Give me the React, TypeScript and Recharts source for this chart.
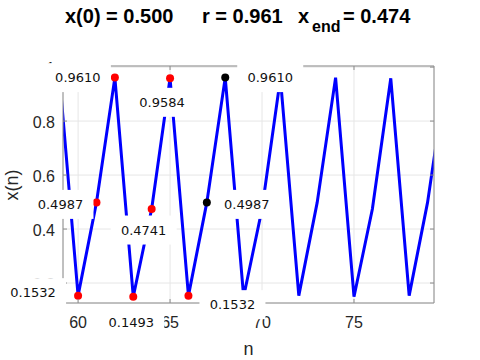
import { ComposedChart, Line, Scatter, XAxis, YAxis, CartesianGrid } from "recharts"

// logistic map orbit, n = 59..80
const nValues = [59, 60, 61, 62, 63, 64, 65, 66, 67, 68, 69, 70, 71, 72, 73, 74, 75, 76, 77, 78, 79, 80]
const xValues = [
  0.9584, 0.1532, 0.4987, 0.961, 0.1493, 0.4741, 0.9584, 0.1532, 0.4987, 0.961, 0.1493,
  0.4741, 0.9584, 0.1532, 0.4987, 0.961, 0.1493, 0.4741, 0.9584, 0.1532, 0.4987, 0.961,
]
const redN = [60, 61, 62, 63, 64, 65, 66]
const blackN = [67, 68]
const tipN = [62, 65, 68, 61, 64, 60, 63, 67, 66]
const xTicks = [60, 65, 70, 75]
const yTicks = [0.2, 0.4, 0.6, 0.8, 1]

// where each data tip box sits relative to its point (px)
const tipOffsets = [
  [-37, 0], [-8, 24], [45, 0], [-36, 2], [-8, 21], [-45, -3], [-2, 25], [40, 2], [44, 9],
]

const xDomain = [59.18, 79.35]
const yDomain = [0.126, 1.004]
const axisColor = "#8c8c8c"
const tickColor = "#262626"
const sans = "'Liberation Sans', Arial, sans-serif"

const valueAt = (n: number) => xValues[nValues.indexOf(n)]

const lineData = nValues.map((n, i) => ({ n, x: xValues[i] }))
const redData = redN.map((n) => ({ n, x: valueAt(n) }))
const blackData = blackN.map((n) => ({ n, x: valueAt(n) }))
const tipData = tipN.map((n) => ({ n, x: valueAt(n), label: valueAt(n).toFixed(4) }))

function BottomTick({ x, y, payload }: any) {
  return (
    <g>
      <line x1={x} y1={y} x2={x} y2={y - 4} stroke={axisColor} />
      <text x={x} y={y + 24.5} textAnchor="middle" fontSize={16} fill={tickColor} fontFamily={sans}>
        {payload.value}
      </text>
    </g>
  )
}

function LeftTick({ x, y, payload }: any) {
  return (
    <g>
      <line x1={x} y1={y} x2={x + 4} y2={y} stroke={axisColor} />
      <text x={x - 8} y={y + 6.5} textAnchor="end" fontSize={16} fill={tickColor} fontFamily={sans}>
        {payload.value === 1 ? "1" : payload.value.toFixed(1)}
      </text>
    </g>
  )
}

function TopTick({ x, y }: any) {
  return <line x1={x} y1={y} x2={x} y2={y + 4} stroke={axisColor} />
}

function RightTick({ x, y }: any) {
  return <line x1={x} y1={y} x2={x - 4} y2={y} stroke={axisColor} />
}

function TipBox(props: any) {
  const { cx, cy, payload } = props
  const [dx, dy] = tipOffsets[tipN.indexOf(payload.n)]
  const tx = cx + dx
  const ty = cy + dy
  return (
    <g>
      <rect x={tx - 33} y={ty - 14.5} width={66} height={29} fill="#ffffff" />
      <text x={tx} y={ty + 4.8} textAnchor="middle" fontSize={13} fill="#111" fontFamily="'DejaVu Sans', sans-serif">
        {payload.label}
      </text>
    </g>
  )
}

export default function App() {
  return (
    <div style={{ position: "absolute", left: 0, top: 0, width: 480, height: 360, background: "#fff" }}>
      <ComposedChart
        width={480}
        height={360}
        data={lineData}
        margin={{ top: 46, right: 26, bottom: 27, left: 23 }}
      >
        <CartesianGrid stroke="#e6e6e6" />
        <XAxis
          dataKey="n"
          type="number"
          domain={xDomain}
          allowDataOverflow
          ticks={xTicks}
          height={30}
          tickSize={0}
          tickMargin={0}
          tickLine={false}
          tick={<BottomTick />}
          axisLine={{ stroke: axisColor }}
        />
        <XAxis
          xAxisId="top"
          orientation="top"
          dataKey="n"
          type="number"
          domain={xDomain}
          ticks={xTicks}
          height={20}
          tickSize={0}
          tickMargin={0}
          tickLine={false}
          tick={<TopTick />}
          axisLine={{ stroke: axisColor }}
        />
        <YAxis
          dataKey="x"
          type="number"
          domain={yDomain}
          ticks={yTicks}
          width={40}
          tickSize={0}
          tickMargin={0}
          tickLine={false}
          tick={<LeftTick />}
          axisLine={{ stroke: axisColor }}
        />
        <YAxis
          yAxisId="right"
          orientation="right"
          dataKey="x"
          type="number"
          domain={yDomain}
          ticks={yTicks}
          width={20}
          tickSize={0}
          tickMargin={0}
          tickLine={false}
          tick={<RightTick />}
          axisLine={{ stroke: axisColor }}
        />
        <Line
          dataKey="x"
          stroke="#0000ff"
          strokeWidth={3}
          dot={false}
          type="linear"
          isAnimationActive={false}
        />
        <Scatter
          xAxisId="top"
          yAxisId="right"
          data={redData}
          dataKey="x"
          fill="#ff0000"
          shape={(p: any) => <circle cx={p.cx} cy={p.cy} r={4} fill="#ff0000" />}
          isAnimationActive={false}
        />
        <Scatter
          xAxisId="top"
          yAxisId="right"
          data={blackData}
          dataKey="x"
          fill="#000000"
          shape={(p: any) => <circle cx={p.cx} cy={p.cy} r={4} fill="#000000" />}
          isAnimationActive={false}
        />
      </ComposedChart>
      {/* data tips sit on top of everything, same plot box as the chart below */}
      <div style={{ position: "absolute", left: 0, top: 0 }}>
        <ComposedChart width={480} height={360} margin={{ top: 66, right: 46, bottom: 57, left: 63 }}>
          <XAxis dataKey="n" type="number" domain={xDomain} hide />
          <YAxis dataKey="x" type="number" domain={yDomain} hide />
          <Scatter data={tipData} dataKey="x" shape={<TipBox />} isAnimationActive={false} />
        </ComposedChart>
      </div>
      <svg
        width={480}
        height={360}
        style={{ position: "absolute", left: 0, top: 0, pointerEvents: "none" }}
        fontFamily={sans}
      >
        <g fontWeight="bold" fontSize={20} fill="#000">
          <text x={65} y={22.5}>x(0) = 0.500</text>
          <text x={202} y={22.5}>r = 0.961</text>
          <text x={298} y={22.5}>x</text>
          <text x={312} y={31.5} fontSize={16}>end</text>
          <text x={343} y={22.5}>= 0.474</text>
        </g>
        <text x={248.5} y={355} textAnchor="middle" fontSize={18} fill={tickColor}>n</text>
        <text transform="translate(18,185) rotate(-90)" textAnchor="middle" fontSize={18} fill={tickColor}>
          x(n)
        </text>
      </svg>
    </div>
  )
}
